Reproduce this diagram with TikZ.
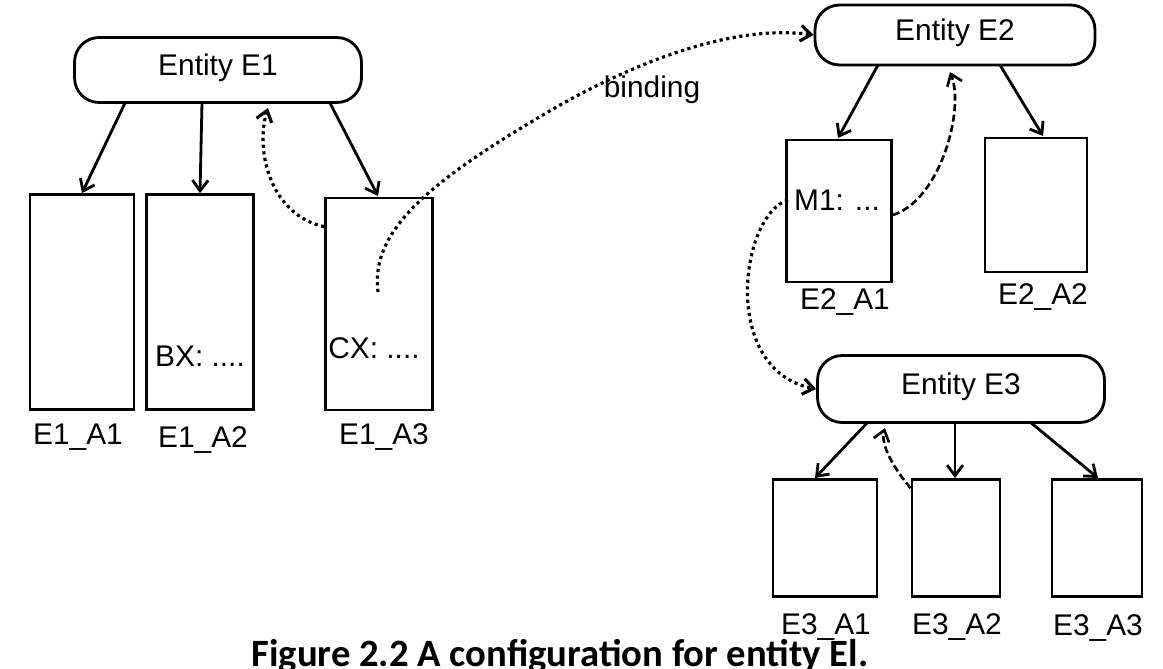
\documentclass[tikz,border=0pt]{standalone}
\usepackage{fontspec}
\setmainfont{Liberation Sans}
\newfontfamily\capfont{Carlito}
\usetikzlibrary{arrows.meta}
\begin{document}
\begin{tikzpicture}[x=0.02cm,y=-0.02cm,
  ent/.style={draw,line width=1.6pt,rounded corners=14pt,inner sep=0pt},
  box/.style={draw,line width=1.6pt,inner sep=0pt},
  lab/.style={font=\fontsize{17}{19}\selectfont},
  arr/.style={line width=1.6pt,-{Straight Barb[length=6pt,width=9pt]}},
  dot/.style={line width=1.8pt,dotted,-{Straight Barb[length=6pt,width=9pt]}},
  dsh/.style={line width=1.5pt,dash pattern=on 4pt off 2pt,-{Straight Barb[length=6pt,width=9pt]}}]
\useasboundingbox (0,0) rectangle (1163,669);
% Entities
\node[ent,minimum width=5.74cm,minimum height=1.3cm] (E1) at (218,70) {};
\node[lab] at (218,68) {Entity E1};
\node[ent,minimum width=5.6cm,minimum height=1.2cm] (E2) at (955,35) {};
\node[lab] at (955,33) {Entity E2};
\node[ent,minimum width=5.74cm,minimum height=1.34cm] (E3) at (961,389) {};
\node[lab] at (961,387) {Entity E3};
% boxes
\node[box,minimum width=2.08cm,minimum height=4.3cm] (A11) at (82,302) {};
\node[box,minimum width=2.14cm,minimum height=4.3cm] (A12) at (200,302) {};
\node[box,minimum width=2.14cm,minimum height=4.24cm] (A13) at (379,304) {};
\node[box,minimum width=2.1cm,minimum height=2.84cm] (A21) at (839,211) {};
\node[box,minimum width=2.04cm,minimum height=2.68cm] (A22) at (1036,205) {};
\node[box,minimum width=2.08cm,minimum height=2.34cm] (A31) at (825,538) {};
\node[box,minimum width=1.76cm,minimum height=2.34cm] (A32) at (956,538) {};
\node[box,minimum width=1.8cm,minimum height=2.34cm] (A33) at (1097,538) {};
% texts
\node[lab] (BX) at (200,356) {BX: ....};
\node[lab] (CX) at (374,348) {CX: ....};
\node[lab] (M1) at (837,200) {M1: ...};
\node[lab] at (78,437) {E1\_A1};
\node[lab] at (203,440) {E1\_A2};
\node[lab] at (384,437) {E1\_A3};
\node[lab] at (845,302) {E2\_A1};
\node[lab] at (1043,297) {E2\_A2};
\node[lab] at (826,627) {E3\_A1};
\node[lab] at (957,627) {E3\_A2};
\node[lab] at (1098,628) {E3\_A3};
\node[lab] (bd) at (652,90) {binding};
\node[font=\capfont\bfseries\fontsize{22}{24}\selectfont] at (560,656) {Figure 2.2 A configuration for entity El.};
% solid arrows
\draw[arr] (125,103) -- (A11.north);
\draw[arr] (202,103) -- (A12.north);
\draw[arr] (330,103) -- (378,196);
\draw[arr] (878,65) -- (838,138);
\draw[arr] (1000,65) -- (1043,136);
\draw[arr] (868,422) -- (815,478);
\draw[arr] (955,422) -- (955,478);
\draw[arr] (1030,422) -- (1098,478);
% dotted / dashed
\coordinate (cx0) at (378,292);
\draw[dot] (cx0) .. controls (370,230) and (430,180) .. (560,105) .. controls (650,55) and (740,25) .. (E2.west);
\draw[dot] (A13.north west)++(0,30) .. controls (270,215) and (255,150) .. (268,108);
\draw[dsh] (A21.east)++(0,4) .. controls (940,200) and (965,110) .. (950,72);
\draw[dot] (M1.west) .. controls (740,215) and (720,370) .. (E3.west);
\draw[dsh] (A32.north west)++(0,10) .. controls (895,470) and (880,445) .. (885,428);
\end{tikzpicture}
\end{document}
